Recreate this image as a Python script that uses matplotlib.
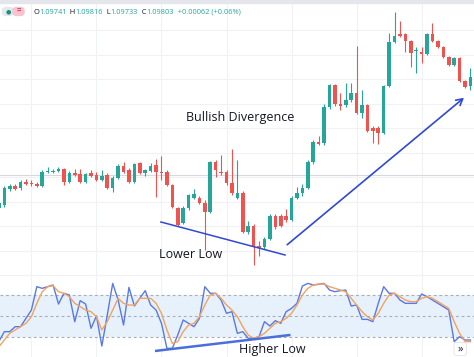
import matplotlib
matplotlib.use('Agg')
import matplotlib.pyplot as plt
import numpy as np
from matplotlib.patches import FancyBboxPatch, Rectangle

# ---------------- data ----------------
opens = [73, 76, 92, 95, 93, 99, 98, 97, 95, 109, 109, 110, 112, 99, 108, 107, 99, 108, 106, 101,
         106, 93, 103, 115, 111, 99, 118, 108, 110, 116, 109, 109, 96, 73, 58, 73, 83, 83, 78, 69,
         119, 109, 109, 98, 83, 88, 49, 55, 35, 34, 42, 65, 65, 65, 61, 83, 88, 93, 119, 139,
         138, 174, 196, 177, 176, 181, 188, 168, 176, 153, 153, 148, 195, 239, 247, 247, 240, 230, 229, 227,
         247, 240, 234, 224, 216, 223, 200, 195, 208]
highs = [81, 95, 97, 97, 101, 102, 101, 99, 111, 114, 112, 114, 113, 110, 112, 112, 108, 111, 109, 111,
         108, 105, 117, 119, 113, 118, 119, 112, 118, 122, 125, 111, 97, 74, 75, 87, 92, 85, 81, 120,
         121, 126, 111, 132, 121, 90, 60, 57, 40, 44, 67, 67, 67, 72, 85, 94, 97, 121, 141, 145,
         177, 197, 197, 188, 198, 198, 235, 191, 177, 155, 155, 196, 248, 269, 260, 248, 241, 234, 234, 248,
         258, 241, 235, 225, 224, 224, 201, 213, 211]
lows = [70, 74, 90, 91, 91, 96, 95, 94, 94, 108, 108, 109, 96, 98, 105, 98, 98, 104, 100, 100,
        92, 89, 102, 108, 98, 98, 107, 105, 109, 84, 101, 95, 73, 55, 57, 71, 82, 77, 31, 68,
        104, 106, 96, 86, 82, 48, 47, 16, 25, 32, 41, 52, 54, 59, 60, 82, 85, 92, 117, 136,
        136, 172, 175, 171, 174, 179, 167, 163, 149, 138, 137, 147, 194, 238, 244, 229, 214, 208, 218, 226,
        239, 233, 223, 215, 215, 199, 193, 191, 201]
closes = [78, 93, 95, 92, 99, 97, 97, 95, 109, 110, 110, 112, 99, 108, 106, 99, 107, 105, 101, 105,
          93, 103, 115, 109, 99, 117, 108, 111, 115, 109, 108, 96, 74, 56, 73, 86, 87, 78, 69, 119,
          111, 108, 98, 88, 88, 49, 55, 34, 33, 42, 65, 54, 55, 61, 83, 88, 93, 119, 139, 137,
          174, 196, 177, 175, 181, 188, 168, 176, 150, 150, 148, 195, 239, 245, 245, 240, 228, 231, 227, 247,
          240, 234, 224, 216, 223, 200, 194, 204, 203]

stoch_k = [13.3, 27.6, 27.6, 34.7, 34.7, 46.6, 58.5, 91.9, 89.5, 91.9, 94.3, 67.1, 82.4, 80.0, 41.9,
           71.9, 67.1, 32.4, 50.0, 7.1, 51.4, 96.6, 72.8, 37.1, 90.9, 64.3, 75.2, 86.2, 65.7, 58.5,
           39.5, 3.8, 3.8, 22.8, 44.3, 39.5, 34.7, 46.6, 91.9, 82.4, 82.4, 72.8, 53.8, 56.2, 25.2,
           27.6, 18.1, 18.1, 20.4, 41.9, 35.7, 43.3, 39.5, 56.2, 60.9, 68.1, 92.8, 96.6, 94.3, 95.2,
           96.6, 87.1, 84.7, 86.2, 87.1, 64.3, 65.7, 45.2, 45.2, 41.9, 68.1, 91.9, 82.4, 82.4, 72.8,
           68.1, 68.1, 68.1, 81.4, 77.6, 72.8, 68.1, 63.3, 58.5, 13.3, 20.4, 15.7, 15.7]
stoch_d = [6.2, 15.7, 25.2, 30.0, 34.7, 39.5, 49.0, 68.1, 84.7, 91.9, 93.3, 84.7, 82.4, 77.6, 68.1,
           63.3, 58.5, 56.2, 49.0, 30.0, 41.9, 58.5, 75.2, 68.1, 65.7, 65.7, 75.2, 75.2, 75.2, 68.1,
           53.8, 30.0, 10.9, 13.3, 27.6, 37.1, 39.5, 49.0, 65.7, 80.0, 82.4, 75.2, 65.7, 58.5, 49.0,
           34.7, 22.8, 18.1, 20.4, 25.2, 32.4, 39.5, 41.9, 46.6, 53.8, 65.7, 80.0, 89.5, 94.3, 95.7,
           95.7, 91.9, 89.5, 87.1, 84.7, 75.2, 65.7, 56.2, 49.0, 44.3, 53.8, 68.1, 80.0, 82.4, 77.6,
           72.8, 70.5, 70.5, 75.2, 77.6, 75.2, 70.5, 65.7, 60.9, 41.9, 25.2, 13.3, 13.3]

header_parts = [("O", "#131722"), ("1.09741", "#26a69a"), ("  H", "#131722"), ("1.09816", "#26a69a"),
                ("  L", "#131722"), ("1.09733", "#26a69a"), ("  C", "#131722"), ("1.09803", "#26a69a"),
                ("  +0.00062 (+0.06%)", "#26a69a")]

# annotation geometry (data coordinates)
lower_low_line = ((30.9, 59), (53.8, 26))
arrow_line = ((53.8, 34.5), (87.2, 185))
higher_low_line = ((29.8, 0.0), (54.8, 22.9))

# ---------------- figure ----------------
W, H = 474, 357
fig = plt.figure(figsize=(W / 100, H / 100), dpi=100)
plt.rcParams['font.family'] = ['Open Sans', 'DejaVu Sans']

GREEN = '#26a69a'
RED = '#ef5350'
idx = np.arange(1, len(opens) + 1)
sidx = np.arange(1, len(stoch_k) + 1)
XL = (1.207, 88.66)

main_h = 281
ax = fig.add_axes([0, (H - main_h) / H, 1, main_h / H])
ax2 = fig.add_axes([0, 0, 1, (H - main_h) / H])
for a in (ax, ax2):
    a.set_xlim(*XL)
    a.set_axis_off()
ax.set_ylim(0, 281)
ax2.set_ylim(-8.6, 100)

# grid
for gx in [7, 19, 31, 43, 55, 67, 79]:
    ax.axvline(gx, color='#f0f1f4', lw=0.8, zorder=0)
    ax2.axvline(gx, color='#f0f1f4', lw=0.8, zorder=0)
for gy in np.arange(6, 260, 24.5):
    ax.axhline(gy, color='#f0f1f4', lw=0.8, zorder=0)
ax.axhline(106, color='#d6d9df', lw=0.8, zorder=0)

# candles
o = np.array(opens); c = np.array(closes); hi = np.array(highs); lo = np.array(lows)
cols = [GREEN if cc >= oo else RED for oo, cc in zip(o, c)]
ax.vlines(idx, lo, hi, colors=cols, lw=0.8, zorder=2)
ax.bar(idx, np.maximum(np.abs(c - o), 1), bottom=np.minimum(o, c), width=0.66,
       color=cols, linewidth=0, zorder=3)

# divergence drawings on price
BLUE = '#3049d4'
(x0, y0), (x1, y1) = lower_low_line
ax.plot([x0, x1], [y0, y1], color=BLUE, lw=1.1, zorder=4)
(x0, y0), (x1, y1) = arrow_line
ax.annotate('', xy=(x1, y1), xytext=(x0, y0),
            arrowprops=dict(arrowstyle='->,head_length=0.45,head_width=0.25', color=BLUE, lw=1.2),
            zorder=4)
ax.text(45.5, 163, "Bullish Divergence", ha='center', va='center', fontsize=9, color='#131722')
ax.text(36.3, 27, "Lower Low", ha='center', va='center', fontsize=9, color='#131722')

# stochastic panel
ax2.axhspan(20, 80, color='#e6f1fb', zorder=0, lw=0)
for lv in (80, 50, 20):
    ax2.axhline(lv, color='#a8adb6', lw=0.8, ls=(0, (2.5, 2.5)), zorder=1)
ax2.plot(sidx, stoch_k, color='#5a78e6', lw=1.0, zorder=3)
ax2.plot(sidx, stoch_d, color='#f2a35e', lw=1.0, zorder=3)
(x0, y0), (x1, y1) = higher_low_line
ax2.plot([x0, x1], [y0, y1], color='#4a6fdc', lw=1.8, zorder=4, solid_capstyle='butt')
ax2.text(51.4, 2.6, "Higher Low", ha='center', va='center', fontsize=9, color='#131722', zorder=5)

# top strip
fig.patches.append(Rectangle((0, 1 - 2.5 / H), 1, 2.5 / H, transform=fig.transFigure,
                             color='#e4e6ec', zorder=0))

# header icons
def px(x, y):
    return x / W, 1 - y / H
bx, by = px(2.5, 15.5)
fig.patches.append(FancyBboxPatch((bx, by), 10.5 / W, 8 / H, boxstyle='round,pad=0,rounding_size=0.008',
                                  transform=fig.transFigure, color='#e3eaea', zorder=5))
bx, by = px(13, 15.5)
fig.patches.append(FancyBboxPatch((bx, by), 11 / W, 8 / H, boxstyle='round,pad=0,rounding_size=0.008',
                                  transform=fig.transFigure, color='#f8c4d2', zorder=5))
cx, cy = px(8, 11.5)
fig.text(cx, cy, "●", color='#1e8c82', fontsize=4.5, ha='center', va='center', zorder=6)
cx, cy = px(18.5, 11.5)
fig.text(cx, cy, "=", color='#e04a6a', fontsize=5.5, ha='center', va='center', zorder=6,
         fontweight='bold')

# header text
renderer = fig.canvas.get_renderer()
hx = 33
hy = 1 - 12 / H
for s, col in header_parts:
    t = fig.text(hx / W, hy, s, color=col, fontsize=5.3, va='center', ha='left')
    bb = t.get_window_extent(renderer=renderer)
    hx += bb.width

# scroll button
bx, by = px(454, 355.5)
fig.patches.append(FancyBboxPatch((bx, by), 12.5 / W, 13 / H, boxstyle='round,pad=0,rounding_size=0.006',
                                  transform=fig.transFigure, facecolor='white', edgecolor='#e0e3eb',
                                  lw=0.6, zorder=6))
cx, cy = px(460.3, 349)
fig.text(cx, cy, "»", color='#131722', fontsize=8, ha='center', va='center', zorder=7)

fig.savefig('out.png', dpi=100, facecolor='white')
